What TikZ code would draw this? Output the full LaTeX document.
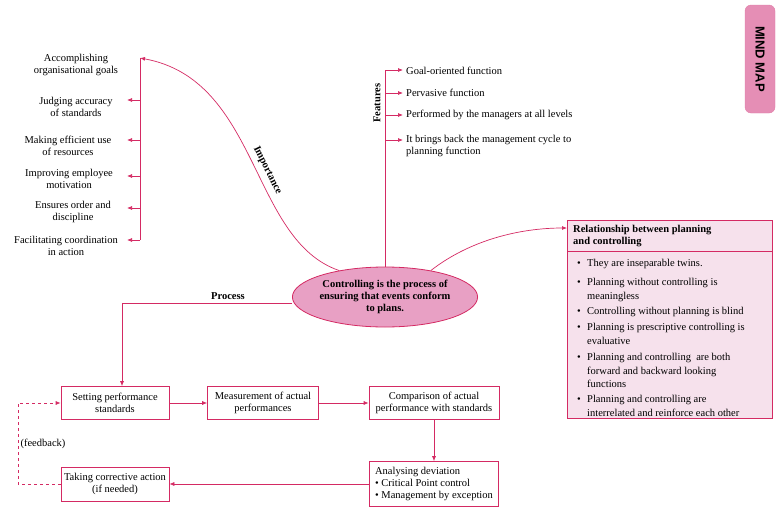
\documentclass[tikz,border=0pt]{standalone}
\usepackage{fontspec}
\setmainfont{Liberation Serif}
\newfontfamily\tagfont{Liberation Sans}
\usetikzlibrary{arrows.meta,shapes.geometric}
\definecolor{crim}{HTML}{D42A63}
\definecolor{pinkf}{HTML}{E8A0C4}
\definecolor{lightp}{HTML}{F6E1EC}
\begin{document}
\begin{tikzpicture}[x=1pt,y=-1pt,font=\fontsize{10.5}{12}\selectfont,
  ln/.style={draw=crim,line width=0.7pt},
  ar/.style={ln,-{Latex[length=5pt,width=4pt]}},
  box/.style={draw=crim,line width=0.7pt,fill=white,align=center,inner sep=2pt},
  itm/.style={align=center,inner sep=1pt},
  ft/.style={anchor=west,align=left,inner sep=1pt},
  bl/.style={anchor=north west,align=left,inner sep=0pt,font=\fontsize{10.5}{13.5}\selectfont}]
\useasboundingbox (0,0) rectangle (780,525);
% central ellipse
\node[ellipse,draw=crim,line width=0.8pt,fill=pinkf,minimum width=136pt,minimum height=60pt,inner sep=0pt,align=center,font=\fontsize{10.5}{12}\selectfont\bfseries] (c) at (385,297) {Controlling is the process of\\ensuring that events conform\\to plans.};
% importance
\coordinate (ibar) at (140,58);
\coordinate (ibot) at (140,240);
\draw[ar] (c.150) .. controls (250,240) and (260,80) .. (ibar) node[pos=0.45,sloped,above=2pt,font=\fontsize{10.5}{12}\selectfont\bfseries] {Importance};
\draw[ln] (ibar) -- (ibot);
\node[itm] (i1) at (76,65) {Accomplishing\\organisational goals};
\node[itm] (i2) at (76,107) {Judging accuracy\\of standards};
\node[itm] (i3) at (68,146) {Making efficient use\\of resources};
\node[itm] (i4) at (69,179) {Improving employee\\motivation};
\node[itm] (i5) at (73,212) {Ensures order and\\discipline};
\node[itm] (i6) at (66,246) {Facilitating coordination\\in action};
\foreach \y/\n in {100/i2,140/i3,176/i4,208/i5,240/i6}{
  \coordinate (t\n) at (140,\y);
  \draw[ar] (t\n) -- (127,\y);}
% features
\coordinate (ftop) at (385,70);
\draw[ln] (c.north) -- (ftop);
\node[rotate=90,font=\fontsize{10.5}{12}\selectfont\bfseries] (fl) at (377,103) {Features};
\node[ft] (f1) at (405,71) {Goal-oriented function};
\node[ft] (f2) at (405,93) {Pervasive function};
\node[ft] (f3) at (405,115) {Performed by the managers at all levels};
\node[ft,anchor=north west] (f4) at (405,134) {It brings back the management cycle to\\planning function};
\foreach \y/\n in {70/f1,93/f2,115/f3,140/f4}{
  \coordinate (s\n) at (385,\y);
  \draw[ar] (s\n) -- (403,\y);}
% relationship box
\node[draw=crim,line width=0.7pt,fill=lightp,minimum width=205pt,minimum height=198pt,anchor=north west,inner sep=0pt] (rb) at (567,220) {};
\draw[ln] (567,251) -- (772,251);
\node[anchor=north west,align=left,inner sep=0pt,font=\fontsize{10.5}{12}\selectfont\bfseries] (rh) at (573,225) {Relationship between planning\\and controlling};
\foreach \y/\t [count=\k] in {257/{They are inseparable twins.},
  276/{Planning without controlling is\\meaningless},
  305/{Controlling without planning is blind},
  321/{Planning is prescriptive controlling is\\evaluative},
  351/{Planning and controlling\ \ are both\\forward and backward looking\\functions},
  393/{Planning and controlling are\\interrelated and reinforce each other}}{
  \node[bl] (bu\k) at (577,\y) {\strut\textbullet};
  \node[bl] (bt\k) at (587,\y) {\strut\t};}
\draw[ar] (c.30) .. controls (470,240) and (520,228) .. (rb.west |- 0,228);
% mind map tag
\node[rounded corners=6pt,fill=pinkf!85!crim,draw=pinkf!70!crim,minimum width=30pt,minimum height=108pt,inner sep=0pt] (mm) at (760,59) {};
\node[rotate=-90,font=\tagfont\fontsize{13}{14}\selectfont\bfseries] (mmt) at (760,59) {MIND MAP};
% process boxes
\node[box,minimum width=108pt,minimum height=33pt] (b1) at (115,403) {Setting performance\\standards};
\node[box,minimum width=111pt,minimum height=33pt] (b2) at (263,403) {Measurement of actual\\performances};
\node[box,minimum width=130pt,minimum height=33pt] (b3) at (434,403) {Comparison of actual\\performance with standards};
\node[box,minimum width=129pt,minimum height=45pt,align=left] (b4) at (434,484) {Analysing deviation\\\textbullet\ Critical Point control\\\textbullet\ Management by exception};
\node[box,minimum width=108pt,minimum height=34pt] (b5) at (115,484) {Taking corrective action\\(if needed)};
\coordinate (pc) at (122,303);
\draw[ar] (c.west |- 0,303) -- (pc) -- (b1.north -| pc);
\node[font=\fontsize{10.5}{12}\selectfont\bfseries] (pl) at (228,296) {Process};
\draw[ar] (b1) -- (b2);
\draw[ar] (b2) -- (b3);
\draw[ar] (b3) -- (b4);
\draw[ar] (b4) -- (b5);
\coordinate (fb1) at (18,484);
\coordinate (fb2) at (18,403);
\draw[ar,dashed] (b5.west) -- (fb1) -- (fb2) -- (b1.west);
\node[fill=white,inner sep=1pt] (fl2) at (43,444) {(feedback)};
\end{tikzpicture}
\end{document}
